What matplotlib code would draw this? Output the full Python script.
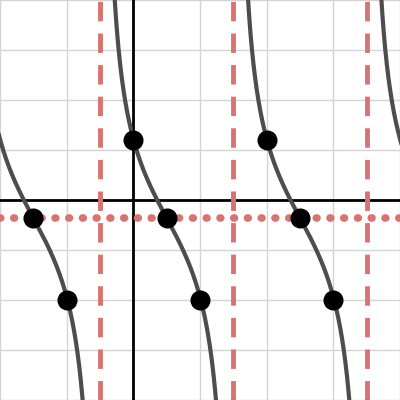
import numpy as np
import matplotlib
matplotlib.use("Agg")
import matplotlib.pyplot as plt

# function y = amp * tan(-(pi/2)(x - shift)) + mid
amp = 1.58
mid = -0.36
shift = 0.5
asymptotes = [-0.5, 1.5, 3.5]
point_x = [-1.5, -1.0, 0.0, 0.5, 1.0, 2.0, 2.5, 3.0]
point_y = [-0.36, -2.0, 1.2, -0.36, -2.0, 1.2, -0.36, -2.0]

fig = plt.figure(figsize=(4, 4), dpi=100)
ax = fig.add_axes([0, 0, 1, 1])
ax.set_xlim(-2, 4)
ax.set_ylim(-4, 4)

for gx in range(-2, 5):
    ax.axvline(gx, color="#d4d4d4", lw=1, zorder=0)
for gy in range(-4, 5):
    ax.axhline(gy, color="#d4d4d4", lw=1, zorder=0)
ax.axvline(0, color="black", lw=2, zorder=1)
ax.axhline(0, color="black", lw=2, zorder=1)

red = "#d9736f"
for a in asymptotes:
    ax.axvline(a, color=red, lw=3.5, ls=(0, (4, 2.5)), zorder=2)
ax.axhline(mid, color=red, lw=5.5, ls=(0, (0.1, 1.7)), dash_capstyle="round", zorder=2)

for a in [-2.5] + asymptotes:
    x = np.linspace(a + 0.002, a + 1.998, 400)
    y = amp * np.tan(-np.pi / 2 * (x - shift)) + mid
    ax.plot(x, y, color="#4d4d4d", lw=3, zorder=3)

ax.scatter(point_x, point_y, s=180, color="black", zorder=4)
ax.axis("off")
fig.savefig("out.png", dpi=100)
